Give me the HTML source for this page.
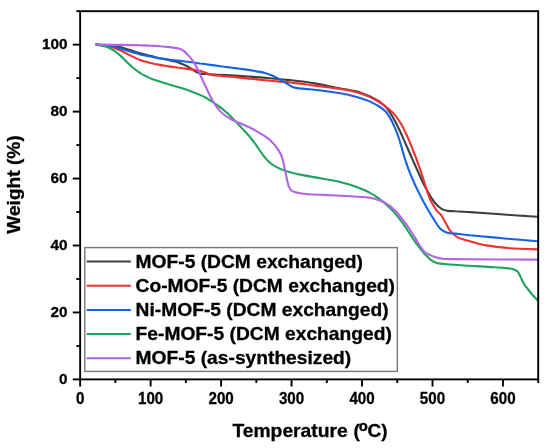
<!DOCTYPE html>
<html><head><meta charset="utf-8"><title>TGA</title>
<style>
html,body{margin:0;padding:0;background:#fff;}
svg{display:block}
text{font-family:"Liberation Sans",sans-serif;font-weight:bold;fill:#000;stroke:#000;stroke-width:0.3px}
.lg{font-size:17.7px}
.tk{font-size:15.3px}
.tkx{font-size:15.8px}
.ax{font-size:18.4px}
.sup{font-size:14px}
</style></head><body>
<svg width="550" height="448" viewBox="0 0 550 448">
<rect width="550" height="448" fill="#fff"/>
<path d="M96.2 44.5C98.5 44.7 106.9 45.4 110.1 45.6C113.2 45.9 113.4 46.0 115.1 46.2C116.8 46.5 118.4 46.8 120.1 47.1C121.8 47.5 123.4 48.0 125.1 48.4C126.8 48.9 128.5 49.5 130.2 50.1C131.9 50.6 133.5 51.2 135.2 51.7C136.9 52.2 138.6 52.7 140.2 53.2C141.8 53.6 143.4 54.1 145.0 54.5C146.6 54.9 147.5 55.2 150.0 55.8C152.5 56.5 156.7 57.5 160.0 58.3C163.3 59.0 167.5 59.8 170.0 60.4C172.5 61.0 173.4 61.1 175.1 61.6C176.8 62.0 178.5 62.6 180.2 63.2C181.9 63.8 183.5 64.5 185.1 65.3C186.7 66.0 188.3 66.8 190.0 67.8C191.7 68.8 193.4 70.3 195.1 71.2C196.8 72.1 198.4 72.9 200.1 73.4C201.8 73.9 203.3 73.9 205.0 74.0C206.7 74.1 207.6 74.1 210.1 74.2C212.6 74.4 216.0 74.5 220.2 74.8C224.3 75.0 230.0 75.3 235.0 75.6C240.0 76.0 245.8 76.3 250.0 76.6C254.2 76.9 256.7 77.1 260.0 77.4C263.3 77.7 266.6 78.0 270.0 78.3C273.4 78.5 276.8 78.9 280.1 79.2C283.5 79.5 286.8 79.8 290.1 80.1C293.5 80.5 297.7 80.9 300.2 81.2C302.7 81.5 302.5 81.5 305.0 81.8C307.5 82.2 311.6 82.8 315.0 83.4C318.4 84.0 322.6 84.8 325.1 85.3C327.6 85.8 328.4 86.1 330.1 86.4C331.8 86.8 332.6 87.0 335.1 87.5C337.6 87.9 341.9 88.7 345.2 89.3C348.5 89.9 352.7 90.6 355.2 91.1C357.7 91.6 357.5 91.5 360.0 92.4C362.5 93.2 366.8 94.8 370.1 96.4C373.5 98.0 377.6 100.4 380.1 102.0C382.6 103.7 383.4 104.6 385.1 106.4C386.8 108.2 388.7 110.8 390.2 113.0C391.7 115.2 393.1 117.7 394.2 119.6C395.3 121.4 395.9 122.7 396.7 124.3C397.5 126.0 398.0 127.0 399.1 129.3C400.2 131.6 401.8 135.2 403.1 138.1C404.4 141.1 405.8 144.1 407.1 147.1C408.4 150.1 409.9 153.6 411.1 156.2C412.3 158.8 412.9 160.4 414.1 163.0C415.3 165.6 416.8 169.1 418.1 172.0C419.4 174.9 420.8 177.9 422.1 180.7C423.4 183.5 424.8 186.2 426.1 188.7C427.4 191.2 429.1 194.0 430.1 195.8C431.2 197.6 431.6 198.1 432.4 199.3C433.2 200.5 434.0 201.7 435.1 203.0C436.2 204.3 437.8 205.9 439.1 207.0C440.4 208.1 441.6 208.9 443.1 209.6C444.6 210.2 446.1 210.6 448.1 210.9C450.1 211.2 452.7 211.1 455.2 211.3C457.7 211.4 460.7 211.6 463.2 211.7C465.7 211.8 465.5 211.8 470.0 212.1C474.5 212.4 483.5 213.0 490.2 213.5C496.9 214.0 504.6 214.6 510.3 215.0C516.0 215.4 519.8 215.6 524.3 215.9C528.8 216.2 535.4 216.6 537.6 216.7" fill="none" stroke="#3f3f3f" stroke-width="2.1" stroke-linejoin="round" stroke-linecap="round"/>
<path d="M96.2 44.5C98.5 44.9 106.9 46.2 110.1 46.8C113.2 47.5 113.4 47.6 115.1 48.2C116.8 48.8 118.4 49.5 120.1 50.3C121.8 51.0 123.4 51.9 125.1 52.8C126.8 53.6 128.5 54.6 130.2 55.4C131.9 56.3 133.5 57.1 135.2 57.9C136.9 58.6 138.6 59.3 140.2 60.0C141.8 60.6 143.4 61.1 145.0 61.6C146.6 62.1 148.3 62.5 150.0 62.9C151.7 63.3 152.5 63.5 155.0 64.0C157.5 64.4 161.8 65.2 165.1 65.7C168.4 66.3 171.8 66.8 175.1 67.3C178.4 67.8 182.7 68.3 185.2 68.6C187.7 69.0 188.3 69.1 190.0 69.3C191.7 69.5 193.5 69.8 195.2 70.0C196.9 70.3 198.4 70.4 200.1 70.8C201.8 71.2 203.4 72.0 205.1 72.6C206.8 73.2 208.4 74.1 210.1 74.6C211.8 75.1 213.3 75.2 215.0 75.4C216.7 75.6 217.7 75.6 220.2 75.8C222.7 76.1 227.7 76.5 230.2 76.7C232.7 76.9 231.7 76.8 235.0 77.1C238.3 77.5 245.8 78.2 250.0 78.7C254.2 79.1 256.7 79.4 260.0 79.7C263.3 80.0 266.6 80.4 270.0 80.7C273.4 81.0 276.8 81.3 280.1 81.6C283.5 81.9 286.8 82.1 290.1 82.5C293.5 82.8 297.7 83.3 300.2 83.6C302.7 83.9 303.5 84.0 305.2 84.3C306.9 84.5 308.6 84.7 310.2 85.0C311.8 85.2 312.5 85.3 315.0 85.6C317.5 85.9 321.8 86.5 325.1 86.9C328.5 87.4 331.8 87.8 335.1 88.3C338.5 88.8 342.7 89.4 345.2 89.8C347.7 90.2 347.5 90.1 350.0 90.7C352.5 91.2 356.6 92.2 360.0 93.2C363.4 94.3 366.8 95.5 370.1 97.1C373.5 98.6 376.8 100.4 380.1 102.6C383.5 104.8 387.7 108.1 390.2 110.2C392.7 112.4 393.7 113.6 395.2 115.4C396.7 117.1 397.8 118.7 399.1 120.7C400.4 122.8 401.8 125.1 403.1 127.6C404.4 130.2 405.8 133.0 407.1 135.9C408.4 138.9 409.8 142.1 411.1 145.4C412.4 148.6 413.9 152.5 415.1 155.5C416.3 158.6 417.0 160.5 418.1 163.6C419.2 166.6 420.5 170.5 421.6 173.8C422.7 177.1 423.6 180.2 424.6 183.3C425.6 186.5 426.7 190.1 427.6 192.7C428.5 195.4 429.2 197.2 430.1 199.2C431.0 201.3 431.9 203.0 433.1 205.0C434.3 207.0 435.8 209.4 437.1 211.1C438.4 212.8 439.9 213.6 441.1 215.1C442.3 216.6 443.1 218.3 444.1 220.1C445.1 221.8 446.1 223.8 447.1 225.6C448.1 227.3 448.9 229.1 450.1 230.6C451.3 232.1 452.9 233.6 454.2 234.8C455.5 236.0 456.9 236.9 458.2 237.6C459.5 238.3 460.9 238.6 462.2 239.1C463.5 239.6 463.8 239.6 466.1 240.3C468.4 241.0 472.4 242.2 476.1 243.1C479.8 243.9 483.5 244.8 488.2 245.6C492.9 246.3 499.0 247.1 504.3 247.6C509.6 248.2 514.8 248.5 520.3 248.8C525.8 249.0 534.7 249.3 537.6 249.4" fill="none" stroke="#f2302f" stroke-width="2.1" stroke-linejoin="round" stroke-linecap="round"/>
<path d="M96.2 44.5C98.5 44.8 106.9 45.7 110.1 46.1C113.2 46.6 113.4 46.7 115.1 47.0C116.8 47.4 118.4 47.9 120.1 48.4C121.8 48.9 123.4 49.4 125.1 49.9C126.8 50.4 128.5 51.0 130.2 51.5C131.9 52.1 133.5 52.6 135.2 53.0C136.9 53.5 138.6 54.0 140.2 54.4C141.8 54.8 143.4 55.1 145.0 55.5C146.6 55.9 147.5 56.1 150.0 56.5C152.5 57.0 156.8 57.8 160.1 58.4C163.4 58.9 166.8 59.4 170.1 59.8C173.4 60.2 176.9 60.5 180.2 60.9C183.5 61.3 186.7 61.6 190.0 62.0C193.3 62.5 196.8 63.0 200.1 63.5C203.4 63.9 206.8 64.4 210.1 64.9C213.4 65.4 216.8 65.8 220.2 66.2C223.5 66.7 226.9 67.1 230.2 67.5C233.5 67.9 236.7 68.3 240.0 68.7C243.3 69.2 246.7 69.6 250.0 70.1C253.3 70.7 257.5 71.4 260.0 71.9C262.5 72.4 263.3 72.6 265.0 73.1C266.7 73.6 268.3 74.1 270.0 74.8C271.7 75.4 273.4 76.2 275.1 77.0C276.8 77.8 278.4 78.7 280.1 79.7C281.8 80.6 283.4 81.6 285.1 82.6C286.8 83.6 288.8 84.8 290.1 85.6C291.4 86.4 292.1 86.9 293.1 87.3C294.1 87.7 294.8 87.7 296.0 87.9C297.2 88.1 298.7 88.2 300.2 88.4C301.7 88.5 302.5 88.6 305.0 88.9C307.5 89.1 311.6 89.5 315.0 89.8C318.4 90.2 321.8 90.6 325.1 91.0C328.5 91.5 331.8 91.9 335.1 92.5C338.5 93.0 342.7 93.7 345.2 94.2C347.7 94.7 347.5 94.6 350.0 95.2C352.5 95.8 356.6 96.8 360.0 97.9C363.4 99.0 366.8 100.1 370.1 101.6C373.5 103.2 377.6 105.4 380.1 107.0C382.6 108.6 383.7 109.7 385.1 111.1C386.5 112.5 387.4 113.6 388.5 115.4C389.6 117.1 390.7 119.0 392.0 121.5C393.3 124.0 394.9 127.7 396.1 130.6C397.3 133.5 398.2 136.2 399.1 138.9C400.0 141.7 400.8 144.5 401.6 147.3C402.4 150.1 403.3 153.2 404.0 155.7C404.7 158.2 405.1 159.5 406.0 162.2C406.9 164.9 408.2 168.7 409.6 172.1C411.0 175.5 412.5 179.1 414.1 182.7C415.7 186.3 417.8 190.6 419.3 193.6C420.8 196.6 421.7 198.4 423.0 200.8C424.3 203.2 425.6 205.6 427.0 208.0C428.4 210.4 429.8 212.8 431.1 215.0C432.5 217.3 433.8 219.4 435.1 221.5C436.4 223.5 437.8 225.8 439.1 227.4C440.4 229.0 441.6 230.0 443.1 230.9C444.6 231.8 446.1 232.4 448.1 232.9C450.1 233.4 452.7 233.4 455.2 233.6C457.7 233.9 460.7 234.2 463.2 234.5C465.7 234.7 467.2 234.9 470.0 235.2C472.8 235.4 475.2 235.7 480.2 236.2C485.2 236.7 493.5 237.4 500.2 238.0C506.9 238.7 514.1 239.3 520.3 239.8C526.5 240.3 534.7 241.0 537.6 241.2" fill="none" stroke="#1463e6" stroke-width="2.1" stroke-linejoin="round" stroke-linecap="round"/>
<path d="M96.2 44.5C97.7 44.8 102.8 45.8 105.1 46.4C107.4 47.0 108.4 47.4 110.1 48.2C111.8 49.0 113.4 50.1 115.1 51.3C116.8 52.5 118.4 53.9 120.1 55.4C121.8 56.9 123.4 58.6 125.1 60.2C126.8 61.9 128.5 63.7 130.2 65.2C131.9 66.8 133.5 68.2 135.2 69.5C136.9 70.8 138.6 72.0 140.2 73.0C141.8 74.1 143.4 74.9 145.0 75.7C146.6 76.6 148.3 77.4 150.0 78.1C151.7 78.9 152.5 79.2 155.0 80.1C157.5 80.9 161.8 82.2 165.1 83.2C168.4 84.3 171.8 85.2 175.1 86.2C178.4 87.2 182.7 88.5 185.2 89.3C187.7 90.0 188.3 90.3 190.0 90.9C191.7 91.5 193.5 92.2 195.2 92.9C196.9 93.5 198.4 94.1 200.0 94.9C201.6 95.6 203.3 96.4 205.0 97.3C206.7 98.2 208.4 99.3 210.1 100.3C211.8 101.4 213.4 102.5 215.1 103.6C216.8 104.8 218.4 106.0 220.1 107.2C221.8 108.5 223.4 109.8 225.1 111.2C226.8 112.6 228.4 114.1 230.1 115.7C231.8 117.4 233.4 119.2 235.1 120.9C236.8 122.7 238.4 124.5 240.1 126.3C241.8 128.1 243.3 129.7 245.0 131.5C246.7 133.3 248.4 135.1 250.1 137.2C251.8 139.2 253.6 141.5 255.1 143.6C256.6 145.6 257.8 147.5 259.1 149.5C260.4 151.4 261.8 153.5 263.1 155.2C264.4 157.0 265.5 158.3 267.0 159.9C268.5 161.4 270.2 163.0 272.1 164.3C274.0 165.6 275.9 166.8 278.1 167.9C280.3 169.0 282.8 169.9 285.1 170.7C287.4 171.5 289.6 172.1 292.1 172.7C294.6 173.4 297.2 174.0 300.2 174.6C303.2 175.2 305.7 175.7 310.0 176.4C314.3 177.2 321.4 178.4 326.1 179.2C330.8 180.1 334.2 180.7 338.2 181.6C342.2 182.5 346.2 183.6 350.2 184.8C354.2 186.1 359.0 187.9 362.3 189.3C365.6 190.6 367.9 191.8 370.0 192.9C372.1 193.9 373.3 194.7 375.0 195.8C376.7 196.9 378.3 198.0 380.0 199.3C381.7 200.6 383.4 201.9 385.1 203.4C386.8 204.9 388.4 206.4 390.1 208.0C391.8 209.7 393.4 211.5 395.1 213.4C396.8 215.3 398.5 217.5 400.1 219.6C401.7 221.6 403.2 223.8 404.5 225.7C405.8 227.6 406.8 229.2 408.0 231.0C409.2 232.7 410.1 234.4 411.5 236.4C412.9 238.4 414.5 241.0 416.1 243.2C417.7 245.4 419.4 247.7 421.1 249.7C422.8 251.8 424.4 253.9 426.1 255.6C427.8 257.3 429.4 258.9 431.1 260.1C432.8 261.3 434.2 262.1 436.1 262.7C438.0 263.3 439.9 263.6 442.2 263.9C444.5 264.2 446.5 264.3 450.2 264.5C453.9 264.8 459.1 265.2 464.1 265.5C469.1 265.8 475.1 266.1 480.2 266.4C485.3 266.7 490.9 267.0 495.0 267.3C499.1 267.5 502.5 267.8 505.0 268.0C507.5 268.2 508.4 268.2 510.1 268.5C511.8 268.8 513.9 269.5 515.1 270.0C516.4 270.5 516.9 270.9 517.6 271.6C518.3 272.3 518.5 273.0 519.1 274.1C519.7 275.2 520.3 276.4 521.1 278.1C521.9 279.8 522.9 282.2 524.1 284.1C525.3 286.0 526.6 287.6 528.1 289.5C529.6 291.4 531.6 293.9 533.2 295.7C534.8 297.4 536.9 299.5 537.6 300.3" fill="none" stroke="#1fa45d" stroke-width="2.1" stroke-linejoin="round" stroke-linecap="round"/>
<path d="M96.2 44.5C100.2 44.6 112.7 44.7 120.0 44.9C127.3 45.0 135.0 45.1 140.0 45.3C145.0 45.4 146.7 45.4 150.0 45.6C153.3 45.7 156.8 45.9 160.1 46.2C163.4 46.4 167.6 46.8 170.1 47.1C172.6 47.4 173.4 47.5 175.1 47.9C176.8 48.2 178.9 48.7 180.2 49.1C181.5 49.5 182.0 49.9 183.0 50.5C184.0 51.1 184.8 51.9 186.0 53.0C187.2 54.1 188.7 55.6 190.0 57.2C191.3 58.8 192.8 60.5 194.1 62.6C195.4 64.8 196.8 67.4 198.1 70.1C199.4 72.8 200.9 76.4 202.1 79.0C203.3 81.5 204.1 83.3 205.1 85.5C206.1 87.6 207.1 89.7 208.1 91.8C209.1 93.8 209.9 95.6 211.1 97.8C212.3 99.9 213.6 102.4 215.1 104.6C216.6 106.8 218.4 109.2 220.1 111.1C221.8 112.9 223.4 114.3 225.1 115.5C226.8 116.8 228.4 117.7 230.1 118.7C231.8 119.6 233.5 120.4 235.2 121.2C236.9 122.0 238.5 122.6 240.2 123.3C241.9 124.1 243.6 124.7 245.2 125.5C246.8 126.2 248.3 126.8 250.0 127.6C251.7 128.4 252.6 128.8 255.1 130.3C257.6 131.7 262.6 134.7 265.1 136.3C267.6 138.0 268.4 138.6 270.1 140.2C271.8 141.7 273.7 143.8 275.2 145.6C276.7 147.4 278.0 149.6 279.0 151.1C280.0 152.7 280.4 153.4 281.1 155.0C281.8 156.6 282.5 158.8 283.1 161.0C283.7 163.2 284.1 165.8 284.6 168.1C285.1 170.4 285.6 172.8 286.1 175.1C286.6 177.4 287.1 180.1 287.6 182.1C288.1 184.1 288.4 185.7 289.1 187.1C289.8 188.5 290.6 189.8 291.6 190.7C292.6 191.5 293.8 191.8 295.2 192.2C296.6 192.6 298.5 192.9 300.2 193.2C301.9 193.4 303.6 193.7 305.2 193.8C306.8 194.0 305.8 194.0 310.0 194.2C314.2 194.5 323.5 194.9 330.2 195.2C336.9 195.6 344.2 196.0 350.2 196.3C356.2 196.7 363.0 197.1 366.3 197.3C369.6 197.6 368.6 197.5 370.0 197.8C371.4 198.0 373.3 198.4 375.0 198.9C376.7 199.3 378.3 199.8 380.0 200.5C381.7 201.1 383.4 201.9 385.1 202.8C386.8 203.8 388.4 204.9 390.1 206.2C391.8 207.5 393.4 209.0 395.1 210.6C396.8 212.3 398.4 214.1 400.1 216.2C401.8 218.2 403.4 220.4 405.1 222.7C406.8 225.0 408.4 227.5 410.1 230.0C411.8 232.6 413.4 235.2 415.1 237.9C416.8 240.6 418.6 243.8 420.1 246.1C421.6 248.4 422.6 250.2 424.1 251.6C425.6 253.0 427.3 253.7 429.1 254.6C430.9 255.5 432.9 256.4 435.1 257.1C437.3 257.8 439.7 258.5 442.2 258.8C444.7 259.1 445.6 259.0 450.2 259.1C454.8 259.2 455.4 259.3 470.0 259.3C484.6 259.4 526.3 259.6 537.6 259.6" fill="none" stroke="#b165e3" stroke-width="2.1" stroke-linejoin="round" stroke-linecap="round"/>
<rect x="84.8" y="247.6" width="312.5" height="123.79999999999998" fill="#fff" stroke="#787878" stroke-width="1.4"/>
<line x1="86.7" x2="130.9" y1="261.6" y2="261.6" stroke="#3f3f3f" stroke-width="2"/>
<text transform="translate(135.6,267.6) scale(1.086,1)" class="lg">MOF-5 (DCM exchanged)</text>
<line x1="86.7" x2="130.9" y1="285.7" y2="285.7" stroke="#f2302f" stroke-width="2"/>
<text transform="translate(135.6,291.7) scale(1.086,1)" class="lg">Co-MOF-5 (DCM exchanged)</text>
<line x1="86.7" x2="130.9" y1="309.9" y2="309.9" stroke="#1463e6" stroke-width="2"/>
<text transform="translate(135.6,315.9) scale(1.086,1)" class="lg">Ni-MOF-5 (DCM exchanged)</text>
<line x1="86.7" x2="130.9" y1="334.1" y2="334.1" stroke="#1fa45d" stroke-width="2"/>
<text transform="translate(135.6,340.1) scale(1.086,1)" class="lg">Fe-MOF-5 (DCM exchanged)</text>
<line x1="86.7" x2="130.9" y1="358.2" y2="358.2" stroke="#b165e3" stroke-width="2"/>
<text transform="translate(135.6,364.2) scale(1.086,1)" class="lg">MOF-5 (as-synthesized)</text>
<rect x="80.15" y="11.2" width="458.05000000000007" height="368.2" fill="none" stroke="#000" stroke-width="1.9"/>
<line x1="80.15" x2="80.15" y1="379.4" y2="386.59999999999997" stroke="#000" stroke-width="1.9"/>
<text transform="translate(80.15,403.9) scale(0.96,1)" class="tkx" text-anchor="middle">0</text>
<line x1="115.38" x2="115.38" y1="379.4" y2="383.0" stroke="#000" stroke-width="1.9"/>
<line x1="150.62" x2="150.62" y1="379.4" y2="386.59999999999997" stroke="#000" stroke-width="1.9"/>
<text transform="translate(150.62,403.9) scale(0.96,1)" class="tkx" text-anchor="middle">100</text>
<line x1="185.85" x2="185.85" y1="379.4" y2="383.0" stroke="#000" stroke-width="1.9"/>
<line x1="221.09" x2="221.09" y1="379.4" y2="386.59999999999997" stroke="#000" stroke-width="1.9"/>
<text transform="translate(221.09,403.9) scale(0.96,1)" class="tkx" text-anchor="middle">200</text>
<line x1="256.32" x2="256.32" y1="379.4" y2="383.0" stroke="#000" stroke-width="1.9"/>
<line x1="291.56" x2="291.56" y1="379.4" y2="386.59999999999997" stroke="#000" stroke-width="1.9"/>
<text transform="translate(291.56,403.9) scale(0.96,1)" class="tkx" text-anchor="middle">300</text>
<line x1="326.79" x2="326.79" y1="379.4" y2="383.0" stroke="#000" stroke-width="1.9"/>
<line x1="362.03" x2="362.03" y1="379.4" y2="386.59999999999997" stroke="#000" stroke-width="1.9"/>
<text transform="translate(362.03,403.9) scale(0.96,1)" class="tkx" text-anchor="middle">400</text>
<line x1="397.26" x2="397.26" y1="379.4" y2="383.0" stroke="#000" stroke-width="1.9"/>
<line x1="432.50" x2="432.50" y1="379.4" y2="386.59999999999997" stroke="#000" stroke-width="1.9"/>
<text transform="translate(432.50,403.9) scale(0.96,1)" class="tkx" text-anchor="middle">500</text>
<line x1="467.73" x2="467.73" y1="379.4" y2="383.0" stroke="#000" stroke-width="1.9"/>
<line x1="502.97" x2="502.97" y1="379.4" y2="386.59999999999997" stroke="#000" stroke-width="1.9"/>
<text transform="translate(502.97,403.9) scale(0.96,1)" class="tkx" text-anchor="middle">600</text>
<line x1="538.20" x2="538.20" y1="379.4" y2="383.0" stroke="#000" stroke-width="1.9"/>
<line x1="72.75" x2="80.15" y1="379.40" y2="379.40" stroke="#000" stroke-width="1.9"/>
<text transform="translate(67.6,383.80) scale(1.0,1)" class="tk" text-anchor="end">0</text>
<line x1="76.35000000000001" x2="80.15" y1="345.93" y2="345.93" stroke="#000" stroke-width="1.9"/>
<line x1="72.75" x2="80.15" y1="312.45" y2="312.45" stroke="#000" stroke-width="1.9"/>
<text transform="translate(67.6,316.85) scale(1.0,1)" class="tk" text-anchor="end">20</text>
<line x1="76.35000000000001" x2="80.15" y1="278.98" y2="278.98" stroke="#000" stroke-width="1.9"/>
<line x1="72.75" x2="80.15" y1="245.51" y2="245.51" stroke="#000" stroke-width="1.9"/>
<text transform="translate(67.6,249.91) scale(1.0,1)" class="tk" text-anchor="end">40</text>
<line x1="76.35000000000001" x2="80.15" y1="212.04" y2="212.04" stroke="#000" stroke-width="1.9"/>
<line x1="72.75" x2="80.15" y1="178.56" y2="178.56" stroke="#000" stroke-width="1.9"/>
<text transform="translate(67.6,182.96) scale(1.0,1)" class="tk" text-anchor="end">60</text>
<line x1="76.35000000000001" x2="80.15" y1="145.09" y2="145.09" stroke="#000" stroke-width="1.9"/>
<line x1="72.75" x2="80.15" y1="111.62" y2="111.62" stroke="#000" stroke-width="1.9"/>
<text transform="translate(67.6,116.02) scale(1.0,1)" class="tk" text-anchor="end">80</text>
<line x1="76.35000000000001" x2="80.15" y1="78.15" y2="78.15" stroke="#000" stroke-width="1.9"/>
<line x1="72.75" x2="80.15" y1="44.67" y2="44.67" stroke="#000" stroke-width="1.9"/>
<text transform="translate(67.6,49.07) scale(1.0,1)" class="tk" text-anchor="end">100</text>
<line x1="76.35000000000001" x2="80.15" y1="11.20" y2="11.20" stroke="#000" stroke-width="1.9"/>
<text x="232.4" y="436.8" class="ax" textLength="115.4" lengthAdjust="spacingAndGlyphs">Temperature</text>
<text transform="translate(353.5,436.8) scale(1.04,1)" class="ax">(</text>
<text transform="translate(358.8,431.2) scale(1.06,1)" class="sup">o</text>
<text transform="translate(367.6,436.8) scale(1.03,1)" class="ax">C)</text>
<text transform="translate(20.1,184.5) rotate(-90) scale(1.04,1)" class="ax" text-anchor="middle">Weight (%)</text>
</svg>
</body></html>
